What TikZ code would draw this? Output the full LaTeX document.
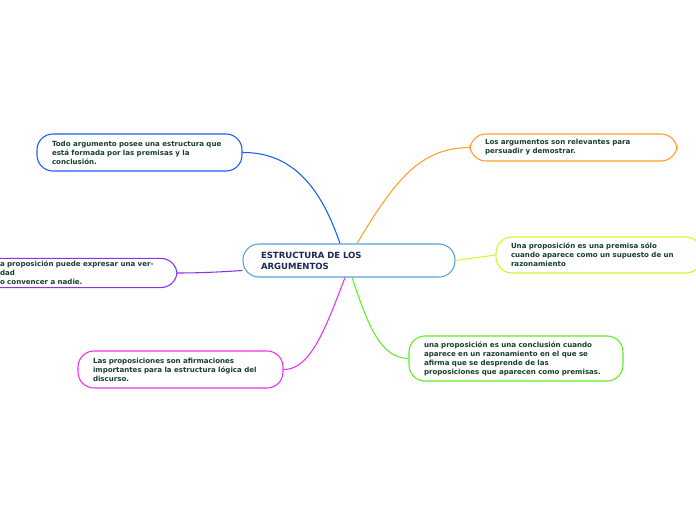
\documentclass[tikz,border=0pt]{standalone}
\usepackage{fontspec}
\setmainfont{DejaVu Sans}
\usetikzlibrary{calc}
\definecolor{txt}{HTML}{17402E}
\definecolor{navy}{HTML}{1B2A55}
\definecolor{cblue}{HTML}{1A5CFF}
\definecolor{corange}{HTML}{FFA020}
\definecolor{cyel}{HTML}{DDF02A}
\definecolor{cgreen}{HTML}{5FEE20}
\definecolor{cmag}{HTML}{EE30EE}
\definecolor{cpur}{HTML}{8A30F0}
\definecolor{ccen}{HTML}{5AA0D8}
\begin{document}
\begin{tikzpicture}[x=0.75pt,y=-0.75pt,
  box/.style={draw=#1,fill=white,line width=0.8pt,rounded corners=12pt,inner xsep=11.25pt,inner ysep=2pt,
    align=left,font=\fontsize{5.3}{6.75}\selectfont\bfseries,text=txt},
  link/.style={line width=0.8pt,#1}]
\useasboundingbox (0,0) rectangle (696,520);
\clip (0,0) rectangle (696,520);
\node[box=ccen,minimum width=159pt,minimum height=24.75pt,text width=132pt,inner xsep=13.5pt,
  font=\fontsize{6.4}{8.2}\selectfont\bfseries,text=navy] (c) at (349,260.5) {ESTRUCTURA DE LOS\\ARGUMENTOS};
\node[box=cblue,minimum width=153.75pt,minimum height=27.75pt,text width=131.25pt] (tl) at (139.5,152.5)
  {Todo argumento posee una estructura que\\está formada por las premisas y la\\conclusión.};
\node[box=cpur,minimum width=144pt,minimum height=21pt,text width=121.5pt] (lf) at (81,273)
  {a proposición puede expresar una verdad\\o convencer a nadie.};
\node[box=cmag,minimum width=153.75pt,minimum height=27.75pt,text width=131.25pt] (bl) at (180.5,369.5)
  {Las proposiciones son afirmaciones\\importantes para la estructura lógica del\\discurso.};
\node[box=corange,minimum width=155.25pt,minimum height=20.25pt,text width=132.75pt] (tr) at (573.5,147.5)
  {Los argumentos son relevantes para\\persuadir y demostrar.};
\node[box=cyel,minimum width=154.5pt,minimum height=27pt,text width=132pt] (r) at (599,255)
  {Una proposición es una premisa sólo\\cuando aparece como un supuesto de un\\razonamiento};
\node[box=cgreen,minimum width=160.5pt,minimum height=33.75pt,text width=138pt] (br) at (516,358.5)
  {una proposición es una conclusión cuando\\aparece en un razonamiento en el que se\\afirma que se desprende de las\\proposiciones que aparecen como premisas.};
\draw[link=cblue] ($(c.north)+(-9,0)$) .. controls (325,200) and (300,152) .. (tl.east);
\draw[link=corange] ($(c.north)+(8,0)$) .. controls (395,180) and (420,148) .. (tr.west);
\draw[link=cyel] (c.east) -- (r.west);
\draw[link=cgreen] ($(c.south)+(3,0)$) .. controls (368,325) and (380,358) .. (br.west);
\draw[link=cmag] ($(c.south)+(-4,0)$) .. controls (325,330) and (310,370) .. (bl.east);
\draw[link=cpur] ($(c.west)+(0,10)$) .. controls (220,272) and (200,273) .. (lf.east);
\end{tikzpicture}
\end{document}
